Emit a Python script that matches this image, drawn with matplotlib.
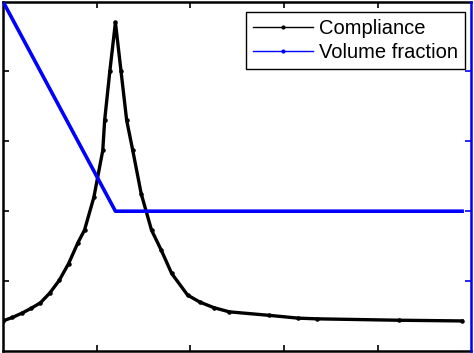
import matplotlib
matplotlib.use('Agg')
import matplotlib.pyplot as plt
from matplotlib.lines import Line2D

plt.rcParams['font.family'] = ['Liberation Sans', 'DejaVu Sans']

# compliance history
comp_x = [0, 2, 4, 6, 8, 10, 12, 14, 16, 17.4, 19.4, 21.3, 21.7, 22.8, 24, 25.2, 26.4,
          27.7, 29.5, 31.7, 33.8, 36, 39.4, 42, 45, 48.3, 56.8, 63, 67, 84.5, 98]
comp_y = [0.43, 0.48, 0.54, 0.61, 0.69, 0.83, 1.01, 1.25, 1.55, 1.73, 2.2, 2.87, 3.3,
          4.0, 4.7, 4.0, 3.3, 2.87, 2.25, 1.73, 1.44, 1.11, 0.80, 0.70, 0.62, 0.56,
          0.51, 0.47, 0.46, 0.44, 0.43]

# volume fraction history
vol_x = [0, 24, 98]
vol_y = [1.0, 0.4, 0.4]

fig = plt.figure(figsize=(4.74, 3.53), dpi=100)
ax = fig.add_axes([0.0063, 0.0057, 0.9884, 0.990])
ax2 = ax.twinx()

ax.plot(comp_x, comp_y, color='black', lw=2.4, marker='.', markersize=4.5)
ax2.plot(vol_x, vol_y, color='blue', lw=2.6)

ax.set_xlim(0, 100)
ax.set_ylim(0, 5)
ax2.set_ylim(0, 1)
ax.set_xticks([20, 40, 60, 80])
ax.set_yticks([1, 2, 3, 4])
ax2.set_yticks([0.2, 0.4, 0.6, 0.8])

ax.tick_params(direction='in', length=4, width=1.2, top=True, right=False,
               labelbottom=False, labelleft=False, colors='black')
ax2.tick_params(direction='in', length=4, width=1.2, colors='blue', labelright=False)

for s in ['left', 'top', 'bottom']:
    ax.spines[s].set_linewidth(1.8)
    ax2.spines[s].set_visible(False)
ax.spines['right'].set_visible(False)
ax2.spines['right'].set_color('blue')
ax2.spines['right'].set_linewidth(1.8)

handles = [Line2D([], [], color='black', lw=1, marker='.', markersize=4),
           Line2D([], [], color='blue', lw=1, marker='.', markersize=4)]
leg = ax2.legend(handles, ['Compliance', 'Volume fraction'], loc='upper right',
                 bbox_to_anchor=(0.987, 0.970), borderaxespad=0, fontsize=14.5,
                 handlelength=3, handletextpad=0.3, labelspacing=0.25, borderpad=0.35,
                 fancybox=False, framealpha=1, edgecolor='black')
leg.get_frame().set_linewidth(1)

fig.savefig('out.png', dpi=100)
